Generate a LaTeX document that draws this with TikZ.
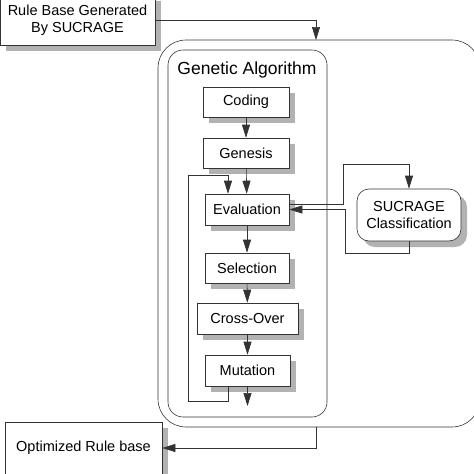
\documentclass[tikz,border=0pt]{standalone}
\usepackage{fontspec}
\setmainfont{Liberation Sans}
\usetikzlibrary{shadows,arrows.meta}
\begin{document}
\begin{tikzpicture}[x=1pt,y=-1pt]

\tikzstyle{stepbox} = [rectangle, draw=black!80, fill=white, line width=0.6pt, minimum width=85pt, minimum height=30pt, text centered, font=\fontsize{14.5}{17.5}\selectfont, drop shadow={shadow xshift=6pt, shadow yshift=-6pt, fill=black!30, opacity=1}]
\tikzstyle{roundbox} = [stepbox, rounded corners=12pt, align=center]
\tikzstyle{container} = [rectangle, draw=black!80, line width=0.6pt, inner sep=0pt]
\tikzstyle{arrow} = [line width=0.6pt, draw=black!80, -{Triangle[length=13pt,width=8pt]}]

\useasboundingbox (0,0) rectangle (474,474);

\node (outer) [container, rounded corners=28pt, minimum width=322pt, minimum height=387pt] at (319,233.5) {};
\node (ga) [container, rounded corners=15pt, minimum width=159pt, minimum height=367pt] at (247.5,233.5) {};
\node (galabel) at (247,70) {\fontsize{17.5}{20}\selectfont Genetic Algorithm};

\node (rulebase) [stepbox, align=center, minimum width=155pt, minimum height=50pt] at (77.5,20) {Rule Base Generated\\By SUCRAGE};
\node (coding) [stepbox, minimum width=86pt] at (246,102) {Coding};
\node (genesis) [stepbox, minimum width=86pt] at (246,153) {Genesis};
\node (eval) [stepbox, minimum width=84pt, minimum height=31pt] at (247,209.5) {Evaluation};
\node (selection) [stepbox, minimum width=84pt] at (247,268) {Selection};
\node (crossover) [stepbox, minimum width=101pt, minimum height=31pt] at (247.5,318.5) {Cross-Over};
\node (mutation) [stepbox, minimum width=85pt, minimum height=31pt] at (247.5,370.5) {Mutation};
\node (sucrage) [roundbox, minimum width=104pt, minimum height=52pt] at (409,215) {SUCRAGE\\Classification};
\node (optimized) [stepbox, minimum width=157pt, minimum height=52pt] at (83.5,448) {Optimized Rule base};

\coordinate (inlet) at (316,40);
\coordinate (gaout) at (247.5,406);
\coordinate (loopA) at (188,401);
\coordinate (loopB) at (188,175);
\coordinate (relayA) at (343,164);
\coordinate (relayB) at (345,253);

\draw [arrow] (rulebase.east) -| (inlet);
\draw [arrow] (coding) -- (genesis);
\draw [arrow] (genesis) -- (eval);
\draw [arrow] (eval) -- (selection);
\draw [arrow] (selection) -- (crossover);
\draw [arrow] (crossover) -- (mutation);
\draw [arrow] (mutation) -- (gaout);
\draw [arrow] ([xshift=-19.5pt]mutation.south) |- (loopA) -- (loopB) -| ([xshift=-19pt]eval.north);
\draw [arrow] ([yshift=5pt]eval.east) -| (relayA) -| (sucrage.north);
\draw [arrow] (sucrage.south) |- (relayB) |- (eval.east);
\draw [arrow] (outer.south -| inlet) |- (optimized.east);

\end{tikzpicture}
\end{document}
